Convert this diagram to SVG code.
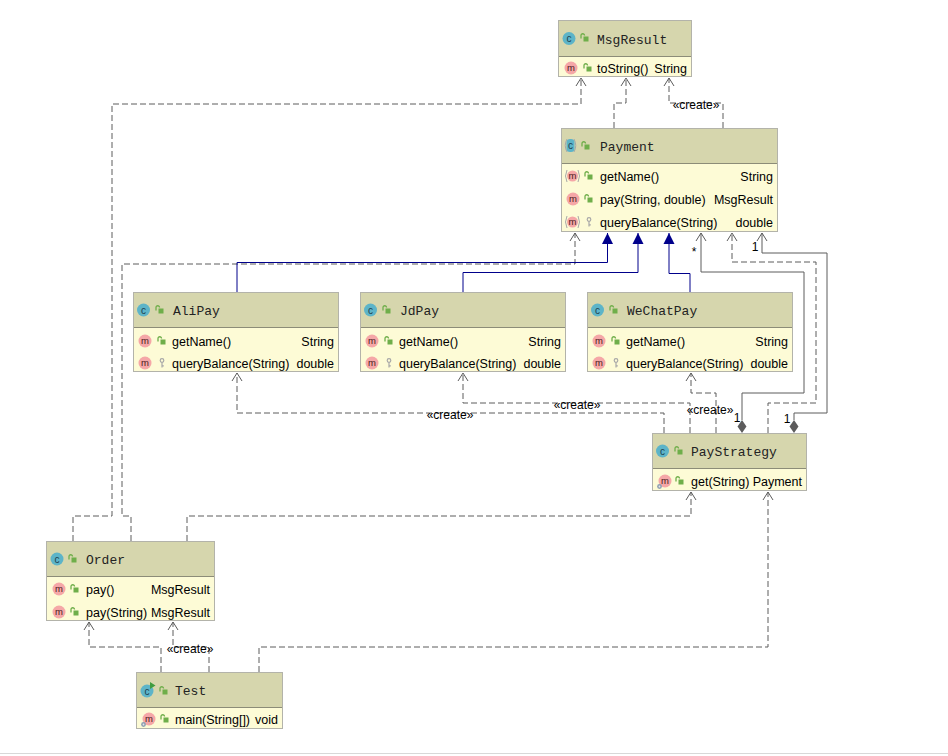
<svg xmlns="http://www.w3.org/2000/svg" xmlns:xlink="http://www.w3.org/1999/xlink" width="948" height="756" viewBox="0 0 948 756">
<style>
.hdr{fill:#d6d6ad}
.bdy{fill:#fdfbd6}
.frm{fill:none;stroke:#b3b3aa;stroke-width:1}
.sep{stroke:#8c8c78;stroke-width:1}
.ttl{font-family:"Liberation Mono",monospace;font-size:13px;fill:#222}
.mem{font-family:"Liberation Sans",Arial,sans-serif;font-size:12.5px;fill:#000}
.typ{font-family:"Liberation Sans",Arial,sans-serif;font-size:12.5px;fill:#000;text-anchor:end}
.ci{fill:#5db4c8}
.cl{font-family:"Liberation Sans",Arial,sans-serif;font-size:10px;fill:#1d3f4d;text-anchor:middle}
.mi{fill:#f5a7a7}
.ml{font-family:"Liberation Sans",Arial,sans-serif;font-size:9.5px;fill:#4a1a1a;text-anchor:middle}
.par{fill:none;stroke:#a8a8a8;stroke-width:1}
.dep{fill:none;stroke:#5c5c5c;stroke-dasharray:6,3;marker-end:url(#open)}
.asc{fill:none;stroke:#5c5c5c;marker-end:url(#open)}
.gen{fill:none;stroke:#00008b;marker-end:url(#tri)}
.dia{fill:#5c5c5c}
.lbl{font-family:"Liberation Sans",Arial,sans-serif;font-size:12px;fill:#000;text-anchor:middle}
.bg{fill:#fff}
</style>
<defs>
<marker id="open" viewBox="-1 -1 12 12" refX="10" refY="5" markerWidth="12" markerHeight="12" markerUnits="userSpaceOnUse" orient="auto">
<path d="M2,0 L10,5 L2,10" fill="none" stroke="#5c5c5c" stroke-width="1"/>
</marker>
<marker id="tri" viewBox="0 0 12 12" refX="11" refY="6" markerWidth="12" markerHeight="12" markerUnits="userSpaceOnUse" orient="auto">
<path d="M0,0.5 L11,6 L0,11.5 Z" fill="#00008b"/>
</marker>
<g id="lock">
<path d="M-3,1.5 V-1.5 a1.75,1.75 0 0 1 3.5,0" fill="none" stroke="#6fae4a" stroke-width="1.3"/>
<rect x="-0.5" y="-0.5" width="5" height="5" fill="#6fae4a"/>
</g>
<g id="key">
<circle cx="0" cy="-2.5" r="1.8" fill="none" stroke="#a8a8a8" stroke-width="1.2"/>
<path d="M0,-0.7 V4.5 M0,2.8 H1.8" stroke="#a8a8a8" stroke-width="1.2" fill="none"/>
</g>
<g id="stat">
<circle r="2.4" fill="#8e9fb2"/>
<circle r="0.9" fill="#e6e6e6"/>
</g>
</defs>
<rect class="bg" x="0" y="0" width="948" height="756"/>
<line x1="0" y1="753.5" x2="948" y2="753.5" stroke="#d8d8d8"/>

<g id="connectors">
<path class="dep" d="M73,541 V516 H112 V104 H581 V78"/>
<path class="dep" d="M131,541 V516 H122 V264 H575 V233"/>
<path class="dep" d="M187,541 V516 H691 V492"/>
<path class="dep" d="M614,128 V103 H626 V78"/>
<path class="dep" d="M723,128 V103 H669 V78"/>
<path class="gen" d="M237,292 V262.5 H607.5 V233"/>
<path class="gen" d="M463,292 V272.5 H638 V233"/>
<path class="gen" d="M690,292 V273.5 H669 V233"/>
<path class="asc" d="M742,420 V393 H804 V272 H701 V233"/>
<polygon class="dia" points="742,420 746.5,426.5 742,433 737.5,426.5"/>
<path class="dep" d="M768,433 V403 H816 V262 H732 V233"/>
<path class="asc" d="M794,420 V413 H827 V253 H762 V233"/>
<polygon class="dia" points="794,420 798.5,426.5 794,433 789.5,426.5"/>
<path class="dep" d="M664,433 V413 H237 V373"/>
<path class="dep" d="M690,433 V403 H463 V373"/>
<path class="dep" d="M716,433 V393 H691 V373"/>
<path class="dep" d="M161,672 V647 H89 V622"/>
<path class="dep" d="M209,672 V647 H173 V622"/>
<path class="dep" d="M259,672 V647 H768 V492"/>
<text class="lbl" x="696" y="109">«create»</text>
<text class="lbl" x="450" y="419">«create»</text>
<text class="lbl" x="577" y="409">«create»</text>
<text class="lbl" x="710" y="414">«create»</text>
<text class="lbl" x="694" y="256">*</text>
<text class="lbl" x="755" y="251">1</text>
<text class="lbl" x="737" y="422">1</text>
<text class="lbl" x="787" y="423">1</text>
<text class="lbl" x="190" y="653">«create»</text>
</g>

<g id="MsgResult">
<rect class="hdr" x="558.5" y="20.5" width="133" height="36"/>
<rect class="bdy" x="558.5" y="56.5" width="133" height="20"/>
<line class="sep" x1="558.5" y1="56.5" x2="691.5" y2="56.5"/>
<rect class="frm" x="558.5" y="20.5" width="133" height="56"/>
<circle class="ci" cx="569" cy="38.5" r="6.5"/><text class="cl" x="569" y="42">c</text>
<use xlink:href="#lock" x="584" y="37"/>
<text class="ttl" x="597" y="44">MsgResult</text>
<circle class="mi" cx="571" cy="68" r="6.5"/><text class="ml" x="571" y="71">m</text>
<use xlink:href="#lock" x="587" y="67"/>
<text class="mem" x="597" y="72.5">toString()</text><text class="typ" x="687" y="72.5">String</text>
</g>

<g id="Payment">
<rect class="hdr" x="561.5" y="128.5" width="216" height="35"/>
<rect class="bdy" x="561.5" y="163.5" width="216" height="68"/>
<line class="sep" x1="561.5" y1="163.5" x2="777.5" y2="163.5"/>
<rect class="frm" x="561.5" y="128.5" width="216" height="103"/>
<path class="par" d="M567,139 q-3.5,6.5 0,13 M574,139 q3.5,6.5 0,13"/>
<rect class="ci" x="566.5" y="139" width="8" height="13" rx="3.5"/><text class="cl" x="570.5" y="149">c</text>
<use xlink:href="#lock" x="585" y="145"/>
<text class="ttl" x="600" y="151">Payment</text>
<path class="par" d="M567,170 q-3,6 0,12 M578,170 q3,6 0,12"/>
<circle class="mi" cx="572.5" cy="176" r="5.5"/><text class="ml" x="572.5" y="179">m</text>
<use xlink:href="#lock" x="588" y="175"/>
<text class="mem" x="600" y="180.5">getName()</text><text class="typ" x="773" y="180.5">String</text>
<circle class="mi" cx="573" cy="199" r="6.5"/><text class="ml" x="573" y="202">m</text>
<use xlink:href="#lock" x="588" y="198"/>
<text class="mem" x="600" y="203.5">pay(String, double)</text><text class="typ" x="773" y="203.5">MsgResult</text>
<path class="par" d="M567,216 q-3,6 0,12 M578,216 q3,6 0,12"/>
<circle class="mi" cx="572.5" cy="222" r="5.5"/><text class="ml" x="572.5" y="225">m</text>
<use xlink:href="#key" x="589" y="222"/>
<text class="mem" x="600" y="226.5">queryBalance(String)</text><text class="typ" x="773" y="226.5">double</text>
</g>

<g id="AliPay">
<rect class="hdr" x="133.5" y="292.5" width="205" height="35"/>
<rect class="bdy" x="133.5" y="327.5" width="205" height="44"/>
<line class="sep" x1="133.5" y1="327.5" x2="338.5" y2="327.5"/>
<rect class="frm" x="133.5" y="292.5" width="205" height="79"/>
<circle class="ci" cx="143.5" cy="310" r="6.5"/><text class="cl" x="143.5" y="313.5">c</text>
<use xlink:href="#lock" x="159" y="309"/>
<text class="ttl" x="173" y="315">AliPay</text>
<circle class="mi" cx="145" cy="341" r="6.5"/><text class="ml" x="145" y="344">m</text>
<use xlink:href="#lock" x="161" y="340"/>
<text class="mem" x="172" y="345.5">getName()</text><text class="typ" x="334" y="345.5">String</text>
<circle class="mi" cx="145" cy="363" r="6.5"/><text class="ml" x="145" y="366">m</text>
<use xlink:href="#key" x="162" y="363"/>
<text class="mem" x="172" y="367.5">queryBalance(String)</text><text class="typ" x="334" y="367.5">double</text>
</g>

<g id="JdPay">
<rect class="hdr" x="360.5" y="292.5" width="205" height="35"/>
<rect class="bdy" x="360.5" y="327.5" width="205" height="44"/>
<line class="sep" x1="360.5" y1="327.5" x2="565.5" y2="327.5"/>
<rect class="frm" x="360.5" y="292.5" width="205" height="79"/>
<circle class="ci" cx="370.5" cy="310" r="6.5"/><text class="cl" x="370.5" y="313.5">c</text>
<use xlink:href="#lock" x="386" y="309"/>
<text class="ttl" x="400" y="315">JdPay</text>
<circle class="mi" cx="372" cy="341" r="6.5"/><text class="ml" x="372" y="344">m</text>
<use xlink:href="#lock" x="388" y="340"/>
<text class="mem" x="399" y="345.5">getName()</text><text class="typ" x="561" y="345.5">String</text>
<circle class="mi" cx="372" cy="363" r="6.5"/><text class="ml" x="372" y="366">m</text>
<use xlink:href="#key" x="389" y="363"/>
<text class="mem" x="399" y="367.5">queryBalance(String)</text><text class="typ" x="561" y="367.5">double</text>
</g>

<g id="WeChatPay">
<rect class="hdr" x="587.5" y="292.5" width="205" height="35"/>
<rect class="bdy" x="587.5" y="327.5" width="205" height="44"/>
<line class="sep" x1="587.5" y1="327.5" x2="792.5" y2="327.5"/>
<rect class="frm" x="587.5" y="292.5" width="205" height="79"/>
<circle class="ci" cx="597.5" cy="310" r="6.5"/><text class="cl" x="597.5" y="313.5">c</text>
<use xlink:href="#lock" x="613" y="309"/>
<text class="ttl" x="627" y="315">WeChatPay</text>
<circle class="mi" cx="599" cy="341" r="6.5"/><text class="ml" x="599" y="344">m</text>
<use xlink:href="#lock" x="615" y="340"/>
<text class="mem" x="626" y="345.5">getName()</text><text class="typ" x="788" y="345.5">String</text>
<circle class="mi" cx="599" cy="363" r="6.5"/><text class="ml" x="599" y="366">m</text>
<use xlink:href="#key" x="616" y="363"/>
<text class="mem" x="626" y="367.5">queryBalance(String)</text><text class="typ" x="788" y="367.5">double</text>
</g>

<g id="PayStrategy">
<rect class="hdr" x="652.5" y="433.5" width="154" height="35"/>
<rect class="bdy" x="652.5" y="468.5" width="154" height="22"/>
<line class="sep" x1="652.5" y1="468.5" x2="806.5" y2="468.5"/>
<rect class="frm" x="652.5" y="433.5" width="154" height="57"/>
<circle class="ci" cx="662.5" cy="451" r="6.5"/><text class="cl" x="662.5" y="454.5">c</text>
<use xlink:href="#lock" x="678" y="450"/>
<text class="ttl" x="691" y="456">PayStrategy</text>
<circle class="mi" cx="665" cy="481" r="6.5"/><text class="ml" x="665" y="484">m</text>
<use xlink:href="#stat" x="659.5" y="486.5"/>
<use xlink:href="#lock" x="679" y="480"/>
<text class="mem" x="691" y="485.5">get(String)</text><text class="typ" x="802" y="485.5">Payment</text>
</g>

<g id="Order">
<rect class="hdr" x="46.5" y="541.5" width="168" height="35"/>
<rect class="bdy" x="46.5" y="576.5" width="168" height="44"/>
<line class="sep" x1="46.5" y1="576.5" x2="214.5" y2="576.5"/>
<rect class="frm" x="46.5" y="541.5" width="168" height="79"/>
<circle class="ci" cx="57" cy="559" r="6.5"/><text class="cl" x="57" y="562.5">c</text>
<use xlink:href="#lock" x="72" y="558"/>
<text class="ttl" x="86" y="564">Order</text>
<circle class="mi" cx="59" cy="589" r="6.5"/><text class="ml" x="59" y="592">m</text>
<use xlink:href="#lock" x="74" y="588"/>
<text class="mem" x="86" y="593.5">pay()</text><text class="typ" x="210" y="593.5">MsgResult</text>
<circle class="mi" cx="59" cy="612" r="6.5"/><text class="ml" x="59" y="615">m</text>
<use xlink:href="#lock" x="74" y="611"/>
<text class="mem" x="86" y="616.5">pay(String)</text><text class="typ" x="210" y="616.5">MsgResult</text>
</g>

<g id="Test">
<rect class="hdr" x="136.5" y="672.5" width="146" height="35"/>
<rect class="bdy" x="136.5" y="707.5" width="146" height="21"/>
<line class="sep" x1="136.5" y1="707.5" x2="282.5" y2="707.5"/>
<rect class="frm" x="136.5" y="672.5" width="146" height="56"/>
<circle class="ci" cx="147" cy="691" r="6.5"/><text class="cl" x="147" y="694.5">c</text>
<polygon points="150,682 155.5,685.5 150,689" fill="#3f9c3f"/>
<use xlink:href="#lock" x="163" y="690"/>
<text class="ttl" x="175" y="695">Test</text>
<circle class="mi" cx="149" cy="719" r="6.5"/><text class="ml" x="149" y="722">m</text>
<use xlink:href="#stat" x="143.5" y="724.5"/>
<use xlink:href="#lock" x="164" y="718"/>
<text class="mem" x="175" y="723.5">main(String[])</text><text class="typ" x="278" y="723.5">void</text>
</g>
</svg>
